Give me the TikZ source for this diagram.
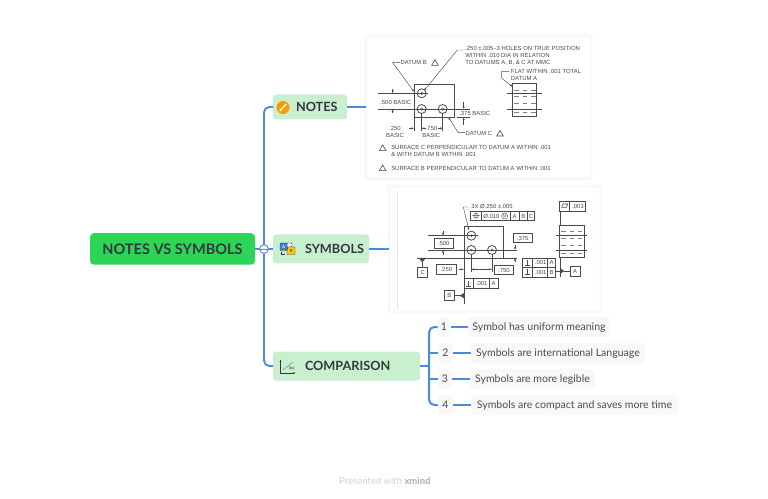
\documentclass[tikz,border=0pt]{standalone}
\usepackage{fontspec}
\setmainfont{Lato}
\newfontfamily\dwg{Liberation Sans}
\usetikzlibrary{arrows.meta}
\definecolor{blu}{HTML}{4A8AE0}
\definecolor{grn}{HTML}{2BD657}
\definecolor{lgrn}{HTML}{C8F0CF}
\definecolor{ink}{HTML}{333740}
\definecolor{dg}{HTML}{4A4A4A}
\definecolor{pale}{HTML}{F8F8F8}
\newcommand{\dwf}{\dwg\fontsize{4.45}{5.2}\selectfont}
\newcommand{\pad}[1]{\hspace*{#1\dimexpr0.75pt\relax}}
\tikzset{
 sz/.style 2 args={minimum width=#1*0.75pt,minimum height=#2*0.75pt,inner sep=0pt,outer sep=0pt},
 root/.style={fill=grn,rounded corners=3pt,text=ink,font=\fontsize{10.9}{12}\selectfont\bfseries},
 topic/.style={fill=lgrn,rounded corners=2.5pt,text=ink,font=\fontsize{9.5}{11}\selectfont\bfseries,align=left,text width=#1*0.75pt},
 sub/.style={fill=pale,rounded corners=3pt,text=ink!90,font=\fontsize{7.9}{9}\selectfont,text height=6pt,text depth=0.8pt},
 panel/.style={fill=white,draw=pale,line width=2pt,rounded corners=1.5pt},
 conn/.style={draw=blu,line width=1.5pt,rounded corners=4pt},
 dl/.style={draw=dg,line width=0.33pt},
 dh/.style={draw=dg,line width=0.6pt},
 dd/.style={draw=black!50,line width=0.3pt,dash pattern=on 3.5pt off 3pt},
 dt/.style={inner sep=0pt,text=dg,anchor=west,font=\dwf,align=left},
 dc/.style={inner sep=0pt,text=dg,font=\dwf},
 tipa/.style={-{Latex[length=2pt,width=1.6pt]}},
 fr/.style={draw=dg,line width=0.5pt,fill=white,inner sep=0pt,text=dg,font=\dwf},
}
\begin{document}
\begin{tikzpicture}[x=0.75pt,y=-0.75pt]
\useasboundingbox (0,0) rectangle (768,499);
\fill[white] (0,0) rectangle (768,499);
% panels
\node[panel,sz={225}{143}] (imgn) at (478.5,107) {};
\node[panel,sz={212}{126}] (imgs) at (495,249) {};
% main nodes
\node[root,sz={165}{31.5}] (rt) at (172.5,249) {NOTES VS SYMBOLS};
\node[topic=74,sz={74}{25}] (nt) at (310,107) {\pad{23}NOTES};
\node[topic=96,sz={96}{29}] (sy) at (321,249) {\pad{32}SYMBOLS};
\node[topic=147,sz={147}{29}] (cp) at (346.5,366) {\pad{32}COMPARISON};
\node[sub,sz={13}{20}] (n1) at (444,327) {1};
\node[sub,sz={15}{20}] (n2) at (445.5,353) {2};
\node[sub,sz={14}{20}] (n3) at (445,379) {3};
\node[sub,sz={15}{20}] (n4) at (445.5,405) {4};
\node[sub,sz={142}{20}] (t1) at (539,327) {Symbol has uniform meaning};
\node[sub,sz={174}{20}] (t2) at (558,353) {Symbols are international Language};
\node[sub,sz={125}{20}] (t3) at (532.5,379) {Symbols are more legible};
\node[sub,sz={207}{20}] (t4) at (574.5,405) {Symbols are compact and saves more time};
\node[inner sep=0pt,text=black!18,font=\fontsize{7.1}{8}\selectfont] (ft) at (385,481) {Presented with \textcolor{black!32}{\bfseries xmind}};
% connectors
\coordinate (hub) at (264,249);
\coordinate (tr) at (264,107);
\coordinate (br) at (264,366);
\coordinate (cb) at (429,366);
\draw[conn,line width=1.4pt] (nt.west) -- (tr) -- (br) -- (cp.west);
\draw[conn,line width=1.4pt,rounded corners=0pt] (rt.east) -- (sy.west);
\draw[conn,line width=1.4pt,rounded corners=0pt] (nt.east) -- (imgn.west);
\draw[conn,line width=1.4pt,rounded corners=0pt] (sy.east) -- (imgs.west);
\draw[conn,line width=1.4pt] (cp.east) -- (cb);
\draw[conn] (n1.west) -- (cb|-n1) -- (cb|-n4) -- (n4.west);
\draw[conn,rounded corners=0pt] (cb|-n2) -- (n2.west);
\draw[conn,rounded corners=0pt] (cb|-n3) -- (n3.west);
\draw[conn,line width=1.3pt] (n1.east) -- (t1.west);
\draw[conn,line width=1.3pt] (n2.east) -- (t2.west);
\draw[conn,line width=1.3pt] (n3.east) -- (t3.west);
\draw[conn,line width=1.3pt] (n4.east) -- (t4.west);
\node[circle,draw=blu,fill=white,line width=0.7pt,minimum size=6.5pt,inner sep=0pt] (hb) at (hub) {};
\draw[blu,line width=0.7pt] (hb.west) -- (hb.east);
% icons
\fill[orange!80!yellow] (283,107.5) circle (6.5);
\draw[white,line width=1.1pt] (279.8,111) -- (286.2,104);
\fill[blu!90!black,rounded corners=.5pt] (280,243) rectangle (287.5,250.5);
\draw[ink,line width=.35pt,rounded corners=.8pt,fill=white] (287,243) -- (292,243) -- (292,247) -- (287,247);
\fill[yellow!60!orange,rounded corners=.5pt] (287,247) rectangle (295,254.5);
\draw[ink,line width=.3pt,rounded corners=.5pt] (280,243) rectangle (287.5,250.5) (287,247) rectangle (295,254.5);
\draw[ink,line width=.3pt] (281.5,252) -- (281.5,254) -- (285,254);
\node[inner sep=0pt,text=white,font=\fontsize{3.2}{4}\selectfont\bfseries] (ia) at (283.7,246.7) {A};
\node[inner sep=0pt,text=ink,font=\fontsize{3.2}{4}\selectfont\bfseries] (ib) at (291,250.7) {X};
\draw[ink,line width=.55pt,{Latex[length=1.5pt,width=1.5pt]}-{Latex[length=1.5pt,width=1.5pt]}] (280.5,359.5) -- (280.5,373) -- (295.5,373);
\draw[ink!70,line width=.3pt] (283,370) -- (293,362);
\node[inner sep=0pt,text=ink,font=\fontsize{2.6}{3}\selectfont\bfseries] (ic) at (291.5,368) {f(x)};
% NOTES drawing (coordinates of a 3x crop at 360,30)
\begin{scope}[shift={(360,30)},x=0.25pt,y=-0.25pt]
\draw[dh] (162,163) rectangle (283,262);
\foreach \pa/\pb in {185/190,185/237,248/237} {\draw[dh,fill=white] (\pa,\pb) circle (13.5); \draw[dl] (\pa,\pb) circle (4);}
\draw[dl] (55,190) -- (205,190) (55,237) -- (330,237) (185,250) -- (185,302) (248,250) -- (248,302) (290,262) -- (330,262);
\draw[dl,tipa] (98,178) -- (98,190); \draw[dl,tipa] (98,250) -- (98,237);
\draw[dl,tipa] (311,215) -- (311,237); \draw[dl,tipa] (311,285) -- (311,262);
\draw[dl,tipa] (147,295) -- (162,295); \draw[dl,tipa] (198,295) -- (185,295); \draw[dl,tipa] (235,295) -- (248,295);
\draw[dl] (162,262) -- (162,302);
\draw[dl,tipa] (120,98) -- (98,98) -- (162,185);
\draw[dl,tipa] (310,60) -- (292,60) -- (192,182);
\draw[dl,tipa] (315,308) -- (295,308) -- (265,262);
\draw[dl,tipa] (448,124) -- (425,124) -- (425,145) -- (458,170);
\draw[dh] (458,160) rectangle (530,260);
\draw[dl] (442,190) -- (545,190) (442,237) -- (545,237);
\draw[dd] (462,180) -- (528,180) (462,200) -- (528,200) (462,220) -- (528,220) (462,247) -- (528,247);
\node[dt] (a1) at (121,98) {DATUM B};
\node[dt] (a2) at (315,78) {.250 ±.005–3 HOLES ON TRUE POSITION\\WITHIN .010 DIA IN RELATION\\TO DATUMS A, B, \& C AT MMC};
\node[dt] (a3) at (452,134) {FLAT WITHIN .001 TOTAL\\DATUM A};
\node[dt] (a4) at (60,217) {.500 BASIC};
\node[dt] (a5) at (297,250) {.375 BASIC};
\node[dc,align=center] (a6) at (105,307) {.250\\BASIC};
\node[dc,align=center] (a7) at (214,307) {.750\\BASIC};
\node[dt] (a8) at (316,310) {DATUM C};
\node[dt] (a9) at (93,364) {SURFACE C PERPENDICULAR TO DATUM A WITHIN .001\\\& WITH DATUM B WITHIN .001};
\node[dt] (a10) at (93,415) {SURFACE B PERPENDICULAR TO DATUM A WITHIN .001};
\foreach \qa/\qb in {225/98,420/310,68/354,68/414} {\begin{scope}[shift={(\qa,\qb)}]\draw[dl,line width=.45pt] (-10,8) -- (0,-9) -- (10,8) -- cycle;\end{scope}}
\end{scope}
% SYMBOLS drawing (coordinates of a 3x crop at 385,182)
\begin{scope}[shift={(385,182)},x=0.25pt,y=-0.25pt]
\draw[draw=black!10,line width=.7pt] (38,28) -- (38,380);
\draw[dh] (237,133) rectangle (354,228);
\foreach \pa/\pb in {259/161,259/204,321/204} {\draw[dh,fill=white] (\pa,\pb) circle (13.5); \draw[dl] (\pa,\pb) circle (3);}
\draw[dl] (130,161) -- (280,161) (130,204) -- (395,204) (95,228) -- (395,228) (259,218) -- (259,270) (321,218) -- (321,270) (237,228) -- (237,365);
\draw[dl,tipa] (174,146) -- (174,161); \draw[dl,tipa] (174,218) -- (174,204);
\draw[dl,tipa] (390,190) -- (390,204); \draw[dl,tipa] (390,240) -- (390,228);
\draw[dl,tipa] (222,262) -- (237,262);
\draw[dl,{Latex[length=2pt,width=1.6pt]}-{Latex[length=2pt,width=1.6pt]}] (259,262) -- (321,262);
\draw[dl,tipa] (253,75) -- (235,75) -- (252,145);
\node[fr,sz={19.5}{10}] (b1) at (176,183) {.500};
\node[fr,sz={19.5}{9.5}] (b2) at (184,262) {.250};
\node[fr,sz={19.5}{9.5}] (b3) at (357,264) {.750};
\node[fr,sz={19.5}{9}] (b4) at (413,169) {.375};
\node[fr,sz={10}{10}] (b5) at (113,271) {C};
\node[fr,sz={10}{9.5}] (b6) at (193,340) {B};
\node[fr,sz={10}{10}] (b7) at (570,267) {A};
\fill[dg] (101,228) -- (123,228) -- (112,241) -- cycle;
\draw[dl] (112,241) -- (112,256);
\fill[dg] (237,333) -- (237,349) -- (224,341) -- cycle;
\draw[dl] (207,340) -- (224,340);
\fill[dg] (525,258) -- (525,276) -- (538,267) -- cycle;
\draw[dl] (538,267) -- (556,267) (512,267) -- (525,267);
\draw[dh] (257,87) rectangle (449,116);
\draw[dl] (289,87) -- (289,116) (375,87) -- (375,116) (403,87) -- (403,116) (427,87) -- (427,116);
\draw[dl] (273,101) circle (7) (262,101) -- (284,101) (273,90) -- (273,112);
\node[dt] (c1) at (258,74) {3X Ø.250 ±.005};
\node[dt] (c2) at (294,102) {Ø.010};
\draw[dl] (359,102) circle (9);
\node[dc,font=\dwg\fontsize{3}{3.5}\selectfont] (c6) at (359,102) {M};
\node[dc] (c3) at (389,102) {A};
\node[dc] (c4) at (415,102) {B};
\node[dc] (c5) at (438,102) {C};
\draw[dh] (412,228) rectangle (512,285);
\draw[dl] (412,256) -- (512,256) (442,228) -- (442,285) (487,228) -- (487,285);
\draw[dh] (238,290) rectangle (340,318);
\draw[dl] (264,290) -- (264,318) (313,290) -- (313,318);
\foreach \qa/\qb in {427/242,427/270,251/304} {\begin{scope}[shift={(\qa,\qb)}]\draw[dl,line width=.4pt] (-7,8) -- (7,8) (0,8) -- (0,-8);\end{scope}}
\node[dt] (d1) at (449,242) {.001};
\node[dt] (d2) at (449,270) {.001};
\node[dt] (d3) at (272,304) {.001};
\node[dc] (d4) at (500,242) {A};
\node[dc] (d5) at (500,270) {B};
\node[dc] (d6) at (326,304) {A};
\draw[dh] (523,57) rectangle (600,87);
\draw[dl] (552,57) -- (552,87);
\draw[dl,line width=.4pt] (530,76) -- (534,66) -- (548,66) -- (544,76) -- cycle;
\node[dt] (e1) at (561,73) {.001};
\draw[dl] (526,87) -- (526,128) (526,228) -- (526,285);
\draw[dh] (523,129) rectangle (597,227);
\draw[dl] (512,161) -- (606,161) (512,204) -- (606,204);
\draw[dd] (528,147) -- (592,147) (528,169) -- (592,169) (528,190) -- (592,190) (528,215) -- (592,215);
\end{scope}
\end{tikzpicture}
\end{document}
